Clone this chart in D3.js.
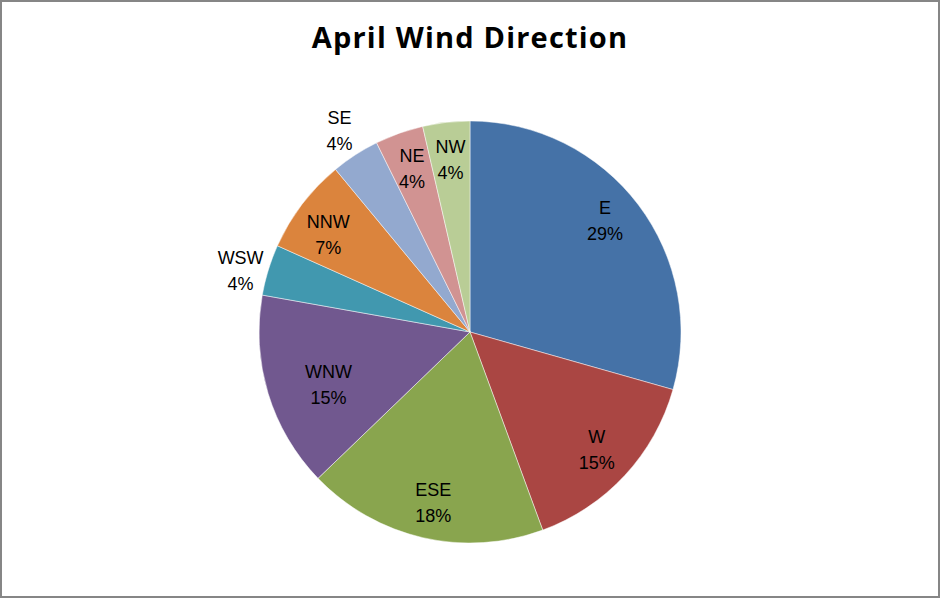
<!DOCTYPE html>
<html>
<head>
<meta charset="utf-8">
<script src="https://cdn.jsdelivr.net/npm/d3@7"></script>
<style>
  body { margin: 0; background: #fff; }
  text { font-family: "Liberation Sans", Arial, sans-serif; }
  text.title { font-family: "Open Sans", sans-serif; }
</style>
</head>
<body>
<div id="chart"></div>
<script>
// Share of April days per wind direction (clockwise from 12 o'clock)
const directions = ["E", "W", "ESE", "WNW", "WSW", "NNW", "SE", "NE", "NW"];
const shares = [29.4, 15.0, 18.4, 15.0, 3.9, 7.3, 3.7, 3.7, 3.6];
const colors = ["#4572A7", "#AA4643", "#89A54E", "#71588F", "#4198AF",
                "#DB843D", "#93A9CF", "#D19392", "#B9CD96"];

// labels that Excel pushed outside the pie
const outsideLabels = ["WSW", "SE"];
// small hand nudges so labels sit where Excel put them
const labelNudge = { E: [-3, -7], NNW: [-4, 8], WSW: [0, 10], WNW: [2, 9], ESE: [2, 2] };

const width = 940, height = 599;
const cx = 470, cy = 332, radius = 211;

const svg = d3.select("#chart")
    .append("svg")
    .attr("width", width)
    .attr("height", height);

// chart border
svg.append("rect")
    .attr("x", 1).attr("y", 1)
    .attr("width", width - 2).attr("height", height - 3)
    .attr("fill", "#fff")
    .attr("stroke", "#868686")
    .attr("stroke-width", 2);

svg.append("text")
    .attr("class", "title")
    .attr("x", cx)
    .attr("y", 48)
    .attr("text-anchor", "middle")
    .attr("font-size", 29)
    .attr("font-weight", "bold")
    .attr("letter-spacing", 1.2)
    .text("April Wind Direction");

const data = directions.map((d, i) => ({ name: d, value: shares[i], color: colors[i] }));
const total = d3.sum(shares);

const pie = d3.pie()
    .sort(null)
    .value(d => d.value);

const arc = d3.arc()
    .innerRadius(0)
    .outerRadius(radius);

const g = svg.append("g")
    .attr("transform", `translate(${cx},${cy})`);

const arcs = pie(data);

g.selectAll("path")
    .data(arcs)
    .enter().append("path")
    .attr("d", arc)
    .attr("fill", d => d.data.color)
    .attr("stroke", "#fff")
    .attr("stroke-opacity", 0.6)
    .attr("stroke-width", 0.8);

// label distance from the centre
function labelRadius(name) {
    if (outsideLabels.includes(name)) return 240;
    if (name === "WNW") return 150;
    return 173;
}

const labels = g.selectAll(".label")
    .data(arcs)
    .enter().append("text")
    .attr("class", "label")
    .attr("text-anchor", "middle")
    .attr("font-size", 18)
    .attr("fill", "#000")
    .attr("transform", d => {
        const a = (d.startAngle + d.endAngle) / 2;
        const r = labelRadius(d.data.name);
        const [nx, ny] = labelNudge[d.data.name] || [0, 0];
        return `translate(${r * Math.sin(a) + nx},${-r * Math.cos(a) + ny})`;
    });

labels.append("tspan")
    .attr("x", 0)
    .attr("y", -7)
    .text(d => d.data.name);

labels.append("tspan")
    .attr("x", 0)
    .attr("y", 19)
    .text(d => Math.round(d.data.value / total * 100) + "%");
</script>
</body>
</html>
